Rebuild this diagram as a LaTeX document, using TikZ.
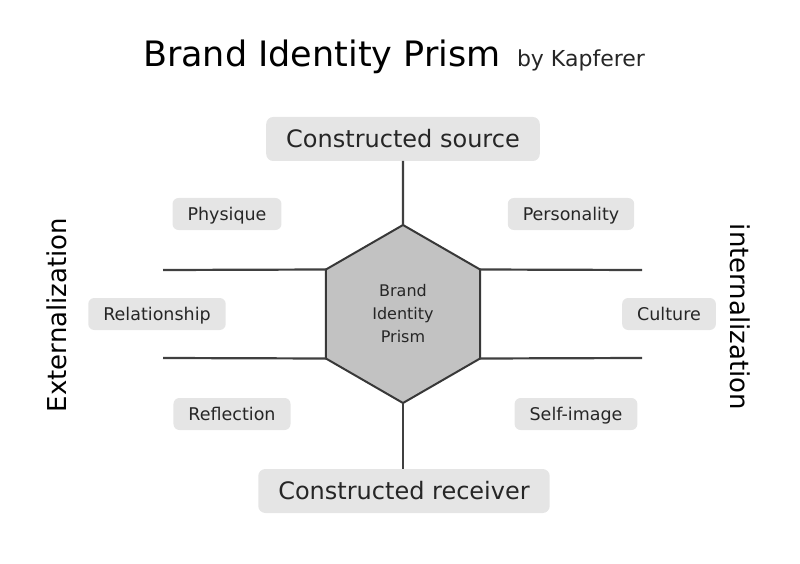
\documentclass[tikz,border=0pt]{standalone}
\usepackage{fontspec}
\setmainfont{DejaVu Sans}
\usetikzlibrary{shapes.geometric}

\begin{document}
\begin{tikzpicture}
[x=1pt, y=1pt,
    every node/.style={text=black!85, inner sep=0pt, outer sep=0pt},
    facet/.style={fill=black!10, rounded corners=6pt, minimum height=32pt, inner xsep=15pt,
        text height=12.8pt, text depth=0pt, font=\fontsize{17.5}{20}\selectfont},
    pole/.style={fill=black!10, rounded corners=7pt, minimum height=44pt, inner xsep=20pt,
        text height=17.5pt, text depth=0pt, font=\fontsize{24}{28}\selectfont},
    prism/.style={regular polygon, regular polygon sides=6, shape border rotate=30,
        minimum size=178pt, fill=black!24, draw=black!78, line width=2pt,
        align=center, font=\fontsize{16}{23}\selectfont},
    side/.style={text=black, font=\fontsize{26}{30}\selectfont},
    spoke/.style={draw=black!75, line width=2.2pt}]
    \useasboundingbox (0,0) rectangle (800,-564);

    % title
    \node[anchor=base west, text=black, font=\fontsize{35}{40}\selectfont] (title) at (143,-67) {Brand Identity Prism};
    \node[anchor=base west, text=black!85, font=\fontsize{22}{26}\selectfont] (author) at (517,-67) {by Kapferer};

    % the prism and its two poles
    \node[prism] (hex) at (403,-314) {Brand\\Identity\\Prism};
    \node[pole] (source) at (403,-139) {Constructed source};
    \node[pole] (receiver) at (404,-491) {Constructed receiver};

    % six facets
    \node[facet] (physique) at (227,-214) {Physique};
    \node[facet] (personality) at (571,-214) {Personality};
    \node[facet] (relationship) at (157,-314) {Relationship};
    \node[facet] (culture) at (669,-314) {Culture};
    \node[facet] (reflection) at (232,-414) {Reflection};
    \node[facet] (selfimage) at (576,-414) {Self-image};

    \node[side, rotate=90] (ext) at (57,-315) {Externalization};
    \node[side, rotate=-90] (int) at (740,-317) {internalization};

    % spokes
    \coordinate (lu) at (163,-270);
    \coordinate (ll) at (163,-358);
    \coordinate (ru) at (642,-270);
    \coordinate (rl) at (642,-358);
    \draw[spoke] (source) -- (hex.90);
    \draw[spoke] (hex.270) -- (hex.270 |- receiver.north);
    \draw[spoke] (hex.150) -- (lu);
    \draw[spoke] (hex.210) -- (ll);
    \draw[spoke] (hex.30) -- (ru);
    \draw[spoke] (hex.330) -- (rl);
\end{tikzpicture}
\end{document}
